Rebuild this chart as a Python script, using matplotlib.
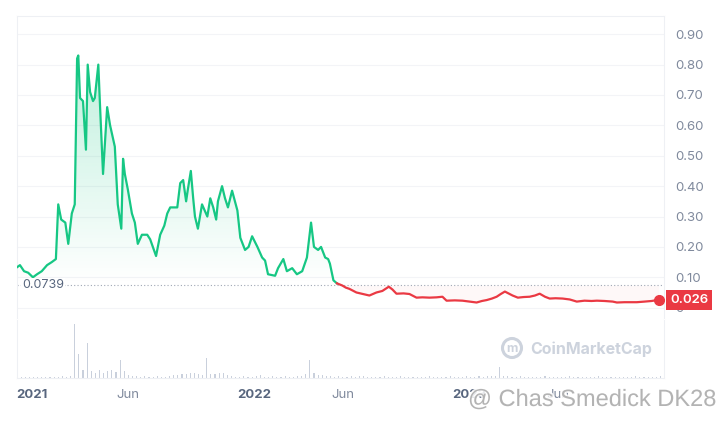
import numpy as np
import pandas as pd
import matplotlib
matplotlib.use("Agg")
import matplotlib.pyplot as plt
import matplotlib.dates as mdates
from matplotlib.path import Path
import matplotlib.transforms as mtrans
import matplotlib.patheffects as pe

plt.rcParams['font.family'] = ['Inter', 'DejaVu Sans']

# price history
dates = ["2020-11-25", "2020-11-30", "2020-12-07", "2020-12-14", "2020-12-22", "2020-12-29",
         "2021-01-06", "2021-01-15", "2021-01-23", "2021-01-30", "2021-02-03", "2021-02-08",
         "2021-02-15", "2021-02-20", "2021-02-26", "2021-03-03", "2021-03-07", "2021-03-09",
         "2021-03-12", "2021-03-17", "2021-03-22", "2021-03-25", "2021-03-29", "2021-04-03",
         "2021-04-06", "2021-04-12", "2021-04-15", "2021-04-20", "2021-04-27", "2021-05-02",
         "2021-05-10", "2021-05-15", "2021-05-21", "2021-05-24", "2021-05-27", "2021-06-01",
         "2021-06-08", "2021-06-13", "2021-06-18", "2021-06-25", "2021-07-04", "2021-07-09",
         "2021-07-19", "2021-07-26", "2021-08-02", "2021-08-07", "2021-08-12", "2021-08-17",
         "2021-08-24", "2021-08-29", "2021-09-03", "2021-09-08", "2021-09-11", "2021-09-16",
         "2021-09-20", "2021-09-23", "2021-09-28", "2021-10-05", "2021-10-14", "2021-10-19",
         "2021-10-24", "2021-10-29", "2021-11-01", "2021-11-08", "2021-11-13", "2021-11-18",
         "2021-11-25", "2021-12-04", "2021-12-09", "2021-12-17", "2021-12-23", "2021-12-29",
         "2022-01-07", "2022-01-15", "2022-01-20", "2022-01-25", "2022-02-06", "2022-02-11",
         "2022-02-20", "2022-02-26", "2022-03-07", "2022-03-15", "2022-03-24", "2022-04-01",
         "2022-04-08", "2022-04-13", "2022-04-20", "2022-04-25", "2022-05-02", "2022-05-07",
         "2022-05-10", "2022-05-16", "2022-05-22", "2022-05-31", "2022-06-06", "2022-06-12",
         "2022-06-19", "2022-06-24", "2022-07-05", "2022-07-16", "2022-07-28", "2022-08-07",
         "2022-08-18", "2022-08-24", "2022-08-31", "2022-09-12", "2022-09-22", "2022-10-04",
         "2022-10-14", "2022-10-26", "2022-11-07", "2022-11-17", "2022-11-24", "2022-12-08",
         "2022-12-21", "2023-01-02", "2023-01-14", "2023-01-23", "2023-01-31", "2023-02-09",
         "2023-02-17", "2023-02-24", "2023-03-03", "2023-03-09", "2023-03-16", "2023-03-25",
         "2023-04-04", "2023-04-14", "2023-04-23", "2023-05-01", "2023-05-10", "2023-05-18",
         "2023-05-28", "2023-06-09", "2023-06-21", "2023-07-03", "2023-07-16", "2023-07-28",
         "2023-08-06", "2023-08-19", "2023-09-02", "2023-09-09", "2023-09-22", "2023-10-13",
         "2023-10-26", "2023-11-07", "2023-11-19"]
prices = [0.133, 0.14, 0.12, 0.115, 0.10, 0.11,
          0.12, 0.14, 0.15, 0.16, 0.34, 0.29,
          0.28, 0.21, 0.31, 0.34, 0.82, 0.83,
          0.69, 0.68, 0.52, 0.80, 0.71, 0.68,
          0.69, 0.80, 0.66, 0.44, 0.66, 0.60,
          0.53, 0.34, 0.26, 0.49, 0.44, 0.39,
          0.31, 0.28, 0.21, 0.24, 0.24, 0.225,
          0.17, 0.24, 0.27, 0.31, 0.33, 0.33,
          0.33, 0.41, 0.42, 0.35, 0.39, 0.45,
          0.36, 0.30, 0.26, 0.34, 0.30, 0.36,
          0.33, 0.29, 0.35, 0.40, 0.36, 0.33,
          0.385, 0.32, 0.23, 0.19, 0.20, 0.235,
          0.20, 0.165, 0.155, 0.11, 0.105, 0.13,
          0.16, 0.12, 0.13, 0.11, 0.12, 0.165,
          0.28, 0.20, 0.19, 0.20, 0.165, 0.16,
          0.145, 0.09, 0.08, 0.073, 0.066, 0.062,
          0.055, 0.05, 0.045, 0.04, 0.05, 0.055,
          0.069, 0.06, 0.046, 0.047, 0.045, 0.033,
          0.034, 0.033, 0.034, 0.036, 0.023, 0.024,
          0.023, 0.02, 0.017, 0.022, 0.025, 0.03,
          0.036, 0.045, 0.053, 0.047, 0.04, 0.033,
          0.035, 0.036, 0.04, 0.046, 0.036, 0.03,
          0.031, 0.03, 0.027, 0.02, 0.023, 0.022,
          0.023, 0.022, 0.02, 0.017, 0.018, 0.018,
          0.02, 0.022, 0.026]

# weekly volume (relative units)
volume = [2, 1, 1, 2, 1, 1, 2, 1, 1, 2, 2, 3, 2, 4,
          100, 45, 14, 65, 12, 10, 14, 9, 12, 15, 11, 33, 12,
          5, 3, 3, 2, 3, 2, 2, 3, 2, 2, 3, 5,
          6, 8, 7, 10, 9, 8, 5, 36, 7, 8, 9, 10, 6,
          3, 2, 2, 3, 2, 2, 3, 5, 2, 2, 3, 2, 2, 3, 2, 2, 3, 4, 8,
          33, 9, 6, 5, 4, 3,
          2, 3, 2, 2, 3, 2, 4, 3, 2, 2,
          2, 2, 3, 2, 2, 2, 3, 2, 2, 2,
          2, 2, 2, 3, 2, 2, 2, 2, 3, 2,
          2, 2, 3, 2, 2, 3, 2, 3, 4, 3,
          20, 4, 3, 2, 2, 3, 2, 2, 2, 2,
          2, 3, 2, 2, 2, 2, 2, 3, 2, 2,
          2, 2, 2, 2, 3, 2, 2, 2, 2, 2,
          2, 2, 2, 3, 2, 2, 2, 2, 2, 3]
vol_dates = pd.date_range("2020-11-25", periods=len(volume), freq="7D")

baseline = 0.0739
last_label = "0.026"
yticks = [0, 0.1, 0.2, 0.3, 0.4, 0.5, 0.6, 0.7, 0.8, 0.9]
ytick_labels = ["0", "0.10", "0.20", "0.30", "0.40", "0.50", "0.60", "0.70", "0.80", "0.90"]
xtick_dates = ["2021-01-01", "2021-06-01", "2022-01-01", "2022-06-01", "2023-01-01", "2023-06-01"]
xtick_labels = ["2021", "Jun", "2022", "Jun", "2023", "Jun"]

GREEN = "#16c784"
RED = "#ea3943"
GREY = "#808a9d"
FRAME = "#eef0f4"

W, H = 726, 423
fig = plt.figure(figsize=(W / 100, H / 100), dpi=100)
ax = fig.add_axes([17 / W, 1 - 318 / H, 647 / W, 302 / H])
axv = fig.add_axes([17 / W, 1 - 378 / H, 647 / W, 58 / H], sharex=ax)

x = mdates.date2num(pd.to_datetime(dates))
v = np.array(prices)
xlim = (mdates.date2num(pd.Timestamp("2020-11-25")), mdates.date2num(pd.Timestamp("2023-11-28")))

# fills
above = v >= baseline
poly = ax.fill_between(x, v, baseline, where=above, interpolate=True, color="none", lw=0)
paths = poly.get_paths()
grad = np.zeros((256, 1, 4))
grad[..., :3] = matplotlib.colors.to_rgb(GREEN)
grad[:, 0, 3] = np.linspace(0.0, 0.28, 256)
img = ax.imshow(grad, extent=[xlim[0], xlim[1], baseline, 0.85], origin="lower",
                aspect="auto", zorder=1)
img.set_clip_path(Path.make_compound_path(*paths), ax.transData)
ax.fill_between(x, v, baseline, where=~above, interpolate=True, color=RED, alpha=0.035, lw=0)

# line, green above baseline, red below
k = int(np.argmax(v < baseline))
ax.plot(x[:k], v[:k], color=GREEN, lw=1.6, zorder=3)
ax.plot(x[k - 1:], v[k - 1:], color=RED, lw=1.6, zorder=3)
ax.plot(x[-1], v[-1], "o", color=RED, ms=7, zorder=4, clip_on=False)

ax.axhline(baseline, color="#a0a8b5", lw=0.8, ls=(0, (1, 2)), zorder=2)
ax.text(0.008, baseline, "0.0739", transform=ax.get_yaxis_transform(), va="center",
        ha="left", fontsize=9, color="#58667e", zorder=5,
        bbox=dict(boxstyle="square,pad=0.1", fc="white", ec="none"))

ax.set_xlim(*xlim)
ax.set_ylim(-0.034, 0.960)
ax.yaxis.tick_right()
ax.set_yticks(yticks)
ax.set_yticklabels(ytick_labels)
ax.tick_params(axis="y", length=0, pad=8, labelsize=9.5, labelcolor=GREY)
ax.tick_params(axis="x", length=0, labelbottom=False)
ax.grid(axis="y", color="#f3f4f7", lw=0.8)
ax.set_axisbelow(True)
for s in ax.spines.values():
    s.set_color(FRAME)
ax.spines["bottom"].set_visible(False)

# last price tag
ax.annotate(last_label, xy=(1.0, v[-1]), xycoords=("axes fraction", "data"),
            xytext=(25, 0), textcoords="offset pixels", ha="center", va="center",
            fontsize=9.5, color="white", fontweight="semibold", zorder=6,
            bbox=dict(boxstyle="square,pad=0.3", fc=RED, ec="none"), annotation_clip=False)

# volume
axv.bar(vol_dates, volume, width=2.0, color="#c9d0dc", lw=0)
axv.set_ylim(0, 107)
axv.set_yticks([])
for s in axv.spines.values():
    s.set_color(FRAME)
axv.spines["top"].set_visible(False)
axv.set_xticks(mdates.date2num(pd.to_datetime(xtick_dates)))
axv.set_xticklabels(xtick_labels)
axv.tick_params(axis="x", length=0, pad=8, labelsize=9.5, labelcolor=GREY)
for lab in axv.get_xticklabels():
    if lab.get_text().isdigit():
        lab.set_fontweight("bold")
        lab.set_color("#58667e")
first = axv.get_xticklabels()[0]
first.set_transform(first.get_transform() + mtrans.Affine2D().translate(-7, 0))

# watermarks
fig.text(530 / W, 1 - 349 / H, "CoinMarketCap", fontsize=11.5, fontweight="bold",
         color="#cdd3dd", va="center", ha="left")
fig.patches.append(matplotlib.patches.Ellipse((512 / W, 1 - 348 / H), 19 / W, 19 / H,
                   transform=fig.transFigure, fill=False, ec="#cdd3dd", lw=2.2))
fig.text(512 / W, 1 - 349 / H, "m", fontsize=9, fontweight="bold", color="#cdd3dd",
         va="center", ha="center")
fig.text(468 / W, 1 - 400 / H, "@ Chas Smedick DK28", fontsize=17,
         family=["Liberation Sans", "DejaVu Sans"], color="#a8a8a8", alpha=0.85,
         va="center", ha="left",
         path_effects=[pe.withStroke(linewidth=2.5, foreground="white")])

fig.savefig("out.png", dpi=100)
